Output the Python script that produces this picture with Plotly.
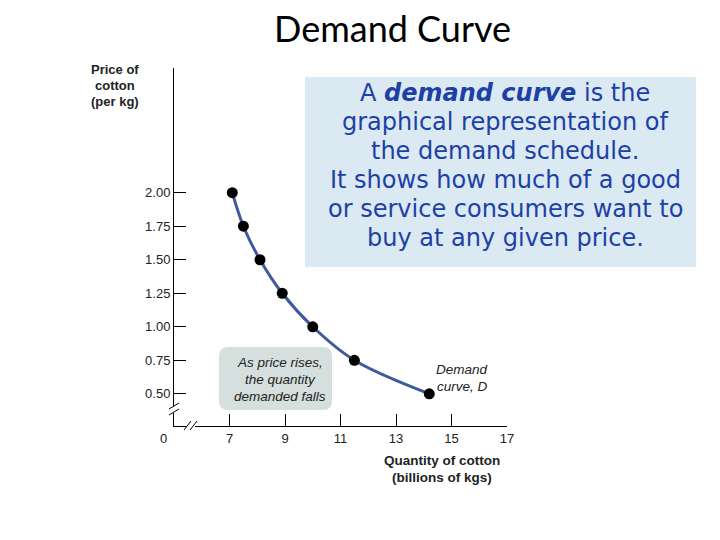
import re
import plotly.graph_objects as go

# Data (demand schedule for cotton)
quantity = [7.1, 7.5, 8.1, 8.9, 10.0, 11.5, 14.2]
price = [2.00, 1.75, 1.50, 1.25, 1.00, 0.75, 0.50]

x_ticks = [7, 9, 11, 13, 15, 17]
y_ticks = [0.50, 0.75, 1.00, 1.25, 1.50, 1.75, 2.00]
y_tick_labels = ["0.50", "0.75", "1.00", "1.25", "1.50", "1.75", "2.00"]

box_lines = [
    "A <b><i>demand curve</i></b> is the",
    "graphical representation of",
    "the demand schedule.",
    "It shows how much of a good",
    "or service consumers want to",
    "buy at any given price.",
]
note_lines = ["As price rises,", "the quantity", "demanded falls"]
curve_lines = ["Demand", "curve, D"]
ylab_lines = ["Price of", "cotton", "(per kg)"]
xlab_lines = ["Quantity of cotton", "(billions of kgs)"]

X0, X1 = 5, 17
Y0, Y1 = 0.26, 2.93
L, R, T, B = 174, 213, 68, 114
W, H = 720, 540
PW, PH = W - L - R, H - T - B


def px(xp):
    return (xp - L) / PW


def py(yp):
    return (H - B - yp) / PH


fig = go.Figure()
fig.add_trace(go.Scatter(
    x=quantity, y=price, mode="lines+markers",
    line=dict(color="#3f5a9c", width=3, shape="spline", smoothing=1.0),
    marker=dict(color="black", size=11),
    showlegend=False, hoverinfo="skip",
))

ARIAL = "Liberation Sans, Arial, sans-serif"
LATO = "Lato, Carlito, sans-serif"
BOXFONT = "DejaVu Sans, Verdana, sans-serif"
tickfont = dict(family=ARIAL, size=13, color="#222")

fig.update_xaxes(
    range=[X0, X1], tickvals=x_ticks, ticktext=[str(v) for v in x_ticks],
    showgrid=False, zeroline=False, showline=True, linecolor="black", linewidth=1,
    ticks="inside", ticklen=12, tickcolor="black", tickwidth=1, tickfont=tickfont,
)
fig.update_yaxes(
    range=[Y0, Y1], tickvals=y_ticks, ticktext=y_tick_labels,
    showgrid=False, zeroline=False, showline=True, linecolor="black", linewidth=1,
    ticks="inside", ticklen=12, tickcolor="black", tickwidth=1, tickfont=tickfont,
)

shapes = []
shapes.append(dict(type="rect", xref="paper", yref="paper",
                   x0=px(305), x1=px(696), y0=py(267), y1=py(77),
                   fillcolor="#dbeaf2", line=dict(width=0), layer="below"))
bx0, bx1, by0, by1, r = 219, 332, 347, 410, 9
path = (f"M {bx0 + r},{by0} L {bx1 - r},{by0} Q {bx1},{by0} {bx1},{by0 + r} "
        f"L {bx1},{by1 - r} Q {bx1},{by1} {bx1 - r},{by1} L {bx0 + r},{by1} "
        f"Q {bx0},{by1} {bx0},{by1 - r} L {bx0},{by0 + r} Q {bx0},{by0} {bx0 + r},{by0} Z")


def repl(m):
    a, b = float(m.group(1)), float(m.group(2))
    return f"{px(a):.5f},{py(b):.5f}"


path_paper = re.sub(r"([\d.]+),([\d.]+)", repl, path)
shapes.append(dict(type="path", xref="paper", yref="paper", path=path_paper,
                   fillcolor="#d5dfdd", line=dict(width=0), layer="below"))
# axis break marks
shapes.append(dict(type="line", xref="paper", yref="paper",
                   x0=px(174), x1=px(174), y0=py(406), y1=py(413),
                   line=dict(color="white", width=3)))
for dy in (0, 6):
    shapes.append(dict(type="line", xref="paper", yref="paper",
                       x0=px(169), x1=px(179), y0=py(409 + dy), y1=py(403 + dy),
                       line=dict(color="black", width=1)))
shapes.append(dict(type="line", xref="paper", yref="paper",
                   x0=px(187), x1=px(195), y0=py(426), y1=py(426),
                   line=dict(color="white", width=3)))
for dx in (0, 6):
    shapes.append(dict(type="line", xref="paper", yref="paper",
                       x0=px(184 + dx), x1=px(191 + dx), y0=py(430), y1=py(421),
                       line=dict(color="black", width=1)))
fig.update_layout(shapes=shapes)

ann = []


def text(t, x, y, font):
    ann.append(dict(text=t, xref="paper", yref="paper", x=px(x), y=py(y),
                    xanchor="center", yanchor="middle", showarrow=False,
                    borderpad=0, borderwidth=0, font=font))


text("Demand Curve", 392, 28, dict(family=LATO, size=36, color="black"))
for t, yy in zip(box_lines, [93, 122, 151, 180, 209, 238]):
    text(t, 505, yy, dict(family=BOXFONT, size=24, color="#1c40a6"))
for t, yy in zip(note_lines, [362, 379, 396]):
    text(t, 280, yy, dict(family=ARIAL, size=13.5, color="#222", style="italic"))
for t, yy in zip(curve_lines, [369, 386]):
    text(t, 462, yy, dict(family=ARIAL, size=13.5, color="#222", style="italic"))
for t, yy in zip(ylab_lines, [69, 85, 101]):
    text(f"<b>{t}</b>", 115, yy, dict(family=ARIAL, size=13, color="#222"))
for t, yy in zip(xlab_lines, [460, 477]):
    text(f"<b>{t}</b>", 442, yy, dict(family=ARIAL, size=13.5, color="#222"))
text("0", 163, 438, tickfont)
fig.update_layout(annotations=ann)

fig.update_layout(
    width=W, height=H, margin=dict(l=L, r=R, t=T, b=B),
    paper_bgcolor="white", plot_bgcolor="rgba(0,0,0,0)",
)

fig.write_html("out.html")
